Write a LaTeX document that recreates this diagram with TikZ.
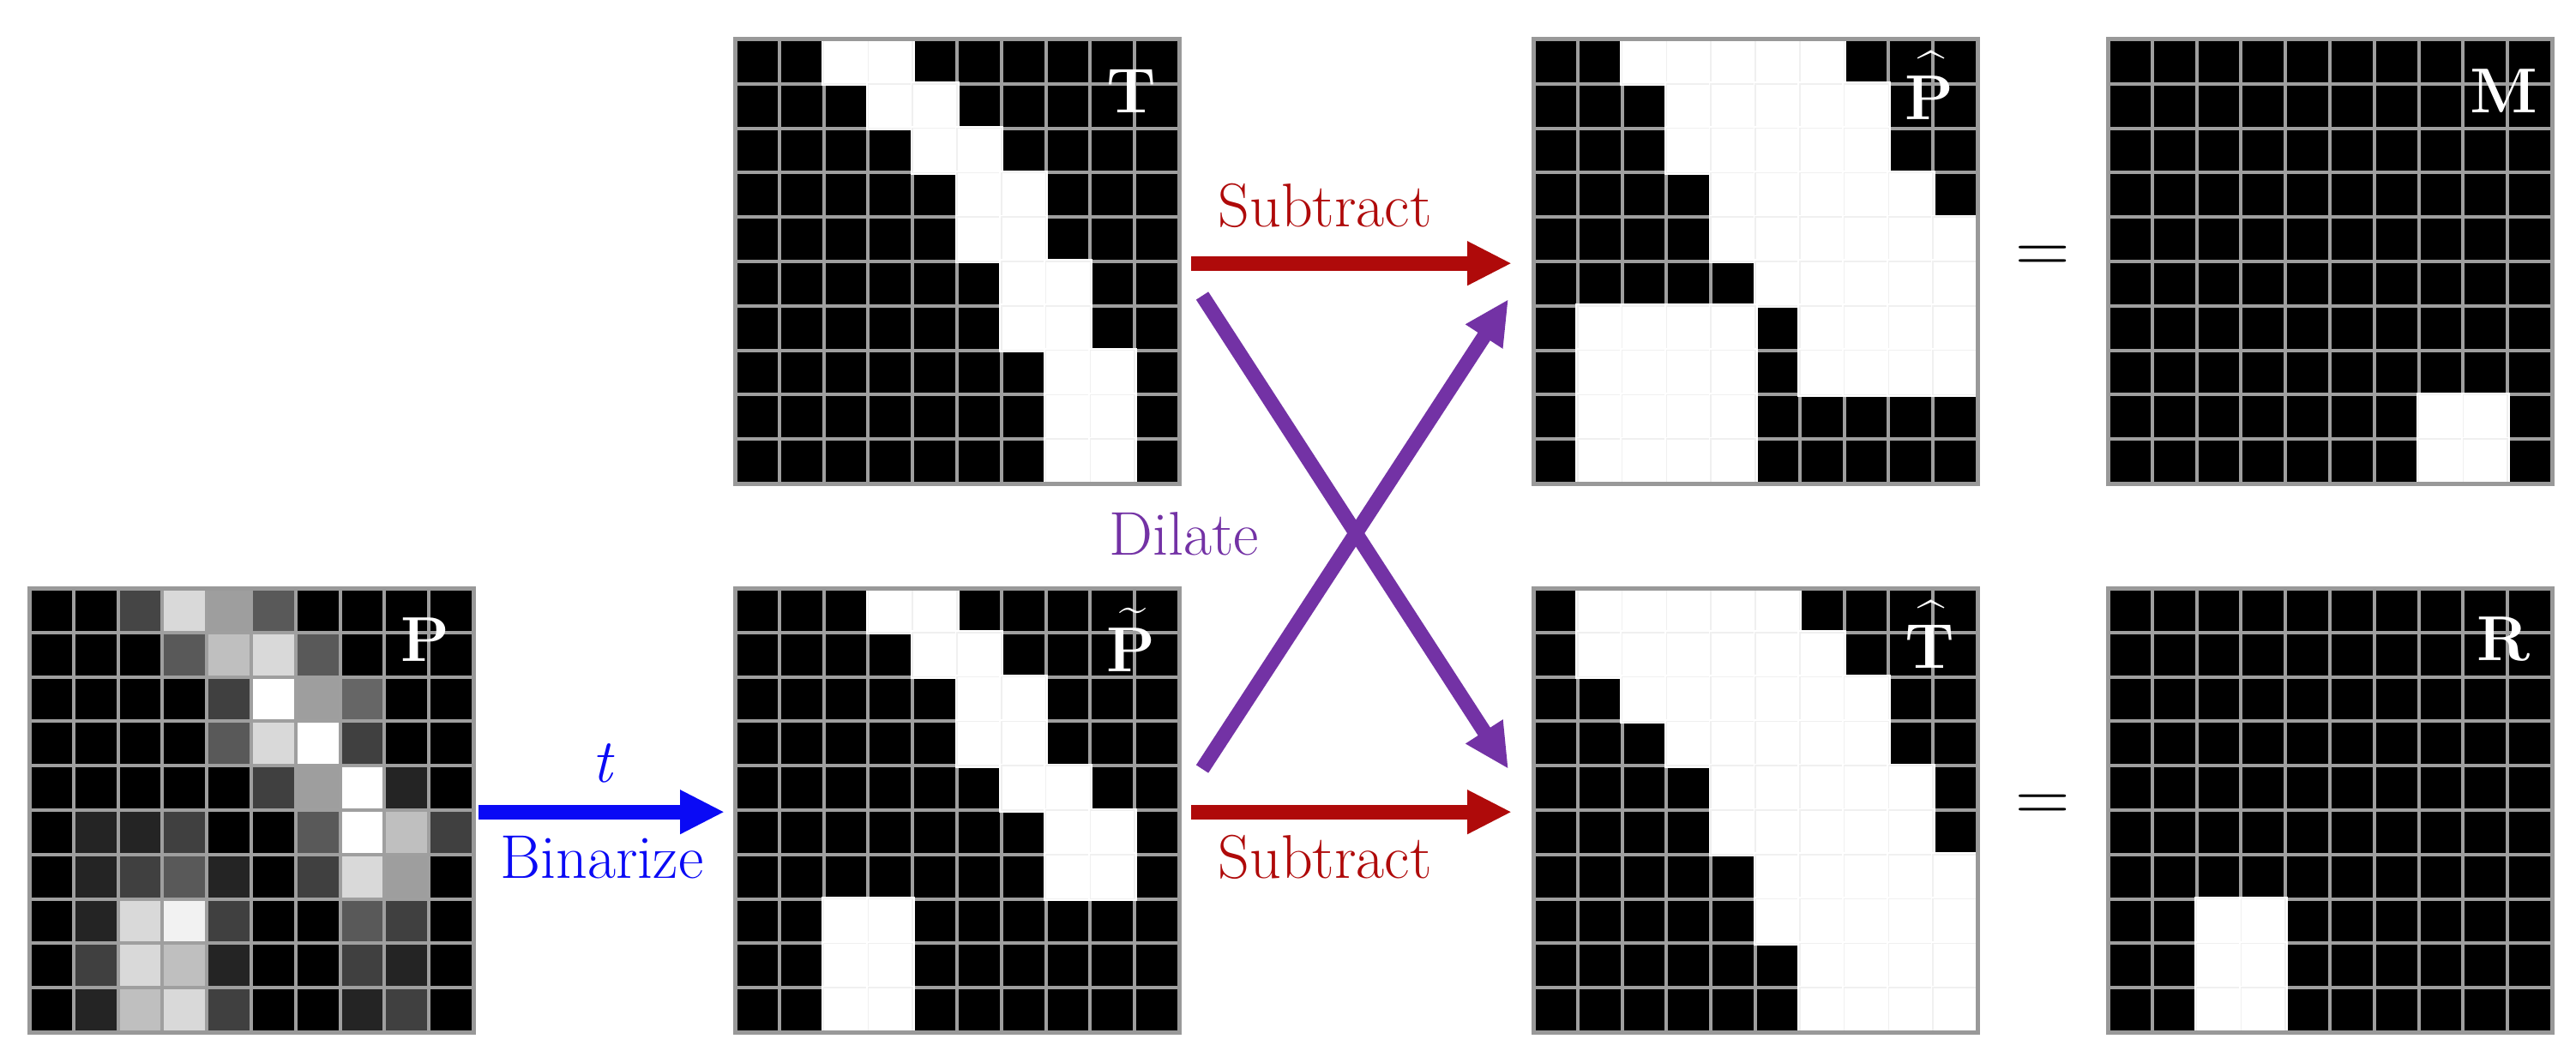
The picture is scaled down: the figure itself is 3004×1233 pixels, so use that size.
\documentclass[tikz,border=0pt]{standalone}
\usepackage{fontspec}
\usetikzlibrary{arrows.meta}
\definecolor{arrblue}{RGB}{10,10,245}
\definecolor{arrred}{RGB}{175,10,10}
\definecolor{arrpurple}{RGB}{115,50,165}
\newcommand\cs{51.8}
\newcommand\bingrid[3]{% x, y, white runs r/a/b
  \begin{scope}[shift={(#1,#2)}]
    \fill[black] (0,0) rectangle (518,518);
    \foreach \i in {1,...,9} {
      \draw[gray!75,line width=4pt] (\i*\cs,0) -- (\i*\cs,518);
      \draw[gray!75,line width=4pt] (0,\i*\cs) -- (518,\i*\cs);
    }
    \foreach \r/\a/\b in {#3} {
      \foreach \c in {\a,...,\b} {
        \fill[white] (\c*\cs-2.5,\r*\cs-2.5) rectangle (\c*\cs+\cs+2.5,\r*\cs+\cs+2.5);
        \draw[black!6,line width=1.5pt] (\c*\cs,\r*\cs) rectangle (\c*\cs+\cs,\r*\cs+\cs);
      }
    }
    \draw[gray!80,line width=5pt] (0,0) rectangle (518,518);
  \end{scope}}
\tikzset{
  gridlbl/.style={text=white,font=\fontsize{74}{74}\bfseries\selectfont,inner sep=0pt},
  acclbl/.style={text=white,font=\fontsize{56}{56}\bfseries\selectfont,inner sep=0pt,anchor=base},
  ghost/.style={draw=none,minimum width=518pt,minimum height=518pt,inner sep=0pt,anchor=north west},
  fat/.style={line width=17pt,-{Triangle[length=52pt,width=48pt]}},
  oplbl/.style={font=\fontsize{72}{72}\selectfont,inner sep=0pt},
  eqsign/.style={font=\fontsize{88}{88}\selectfont,inner sep=0pt}
}
\begin{document}
\begin{tikzpicture}[x=1pt,y=-1pt]
\useasboundingbox (0,0) rectangle (3004,1233);
\fill[white] (0,0) rectangle (3004,1233);
% grayscale P
\begin{scope}[shift={(34,686)}]
  \fill[black] (0,0) rectangle (518,518);
  \foreach \row [count=\r from 0] in {
    {0,0,27,85,62,35,0,0,0,0},
    {0,0,0,35,75,85,35,0,0,0},
    {0,0,0,0,25,100,62,40,0,0},
    {0,0,0,0,35,85,100,25,0,0},
    {0,0,0,0,0,25,62,100,14,0},
    {0,14,14,25,0,0,35,100,75,25},
    {0,14,25,35,14,0,25,85,62,0},
    {0,14,85,95,25,0,0,35,25,0},
    {0,25,85,75,14,0,0,25,14,0},
    {0,14,75,85,25,0,0,14,25,0}} {
    \foreach \v [count=\c from 0] in \row {
      \fill[white!\v!black] (\c*\cs,\r*\cs) rectangle (\c*\cs+\cs,\r*\cs+\cs);
    }
  }
  \foreach \i in {1,...,9} {
    \draw[gray!75,line width=4pt] (\i*\cs,0) -- (\i*\cs,518);
    \draw[gray!75,line width=4pt] (0,\i*\cs) -- (518,\i*\cs);
  }
  \draw[gray!80,line width=5pt] (0,0) rectangle (518,518);
\end{scope}
\bingrid{857}{46}{0/2/3,1/3/4,2/4/5,3/5/6,4/5/6,5/6/7,6/6/7,7/7/8,8/7/8,9/7/8}
\bingrid{857}{686}{0/3/4,1/4/5,2/5/6,3/5/6,4/6/7,5/7/8,6/7/8,7/2/3,8/2/3,9/2/3}
\bingrid{1788}{46}{0/2/6,1/3/7,2/3/7,3/4/8,4/4/9,5/5/9,6/1/4,6/6/9,7/1/4,7/6/9,8/1/4,9/1/4}
\bingrid{1788}{686}{0/1/5,1/1/6,2/2/7,3/3/7,4/4/8,5/4/8,6/5/9,7/5/9,8/6/9,9/6/9}
\bingrid{2458}{46}{8/7/8,9/7/8}
\bingrid{2458}{686}{7/2/3,8/2/3,9/2/3}
% named grid nodes
\node[ghost] (P) at (34,686) {};
\node[ghost] (T) at (857,46) {};
\node[ghost] (Pt) at (857,686) {};
\node[ghost] (Ph) at (1788,46) {};
\node[ghost] (Th) at (1788,686) {};
\node[ghost] (M) at (2458,46) {};
\node[ghost] (R) at (2458,686) {};
% labels
\node[gridlbl] (lP) at (34+462,686+60) {P};
\node[gridlbl] (lT) at (857+462,46+60) {T};
\node[gridlbl] (lPt) at (857+462,686+72) {P};
\node[acclbl] (aPt) at (857+464,686+40) {\textasciitilde};
\node[gridlbl] (lPh) at (1788+462,46+68) {P};
\node[acclbl] (aPh) at (1788+464,46+55) {\textasciicircum};
\node[gridlbl] (lTh) at (1788+462,686+68) {T};
\node[acclbl] (aTh) at (1788+464,686+55) {\textasciicircum};
\node[gridlbl] (lM) at (2458+462,46+60) {M};
\node[gridlbl] (lR) at (2458+462,686+60) {R};
% arrows
\draw[fat,arrblue] ([xshift=6pt,yshift=-2pt]P.east) -- ([xshift=-12pt,yshift=-2pt]Pt.west);
\node[oplbl,text=arrblue] (tl) at (702,890) {\itshape t};
\node[oplbl,text=arrblue] (bl) at (702,1000) {Binarize};
\draw[fat,arrred] ([xshift=14pt,yshift=-2pt]T.east) -- ([xshift=-25pt,yshift=-2pt]Ph.west);
\node[oplbl,text=arrred] (s1) at (1545,240) {Subtract};
\draw[fat,arrred] ([xshift=14pt,yshift=-2pt]Pt.east) -- ([xshift=-25pt,yshift=-2pt]Th.west);
\node[oplbl,text=arrred] (s2) at (1545,1000) {Subtract};
\coordinate (d1s) at (1402,345);
\coordinate (d1e) at (1759,897);
\coordinate (d2s) at (1402,897);
\coordinate (d2e) at (1759,349);
\draw[fat,arrpurple] (d1s) -- (d1e);
\draw[fat,arrpurple] (d2s) -- (d2e);
\node[oplbl,text=arrpurple,anchor=east] (dl) at (1468,623) {Dilate};
\node[eqsign] (e1) at (2382,303) {=};
\node[eqsign] (e2) at (2382,943) {=};
\end{tikzpicture}
\end{document}
